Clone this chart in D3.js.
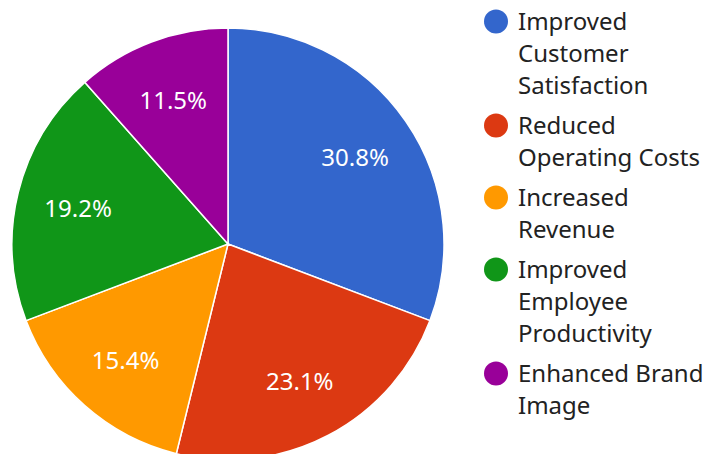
<!DOCTYPE html>
<html>
<head>
<meta charset="utf-8">
<script src="https://cdn.jsdelivr.net/npm/d3@7"></script>
<style>
  body { margin: 0; background: #fff; }
  svg { display: block; font-family: "Noto Sans", "Open Sans", sans-serif; }
</style>
</head>
<body>
<svg id="chart" width="709" height="454"></svg>
<script>
// chart data
const categories = [
    "Improved Customer Satisfaction",
    "Reduced Operating Costs",
    "Increased Revenue",
    "Improved Employee Productivity",
    "Enhanced Brand Image"
];
const values = [8, 6, 4, 5, 3];
const colors = ["#3366cc", "#dc3912", "#ff9900", "#109618", "#990099"];
// legend lines as wrapped in the picture
const legendLines = [
    ["Improved", "Customer", "Satisfaction"],
    ["Reduced", "Operating Costs"],
    ["Increased", "Revenue"],
    ["Improved", "Employee", "Productivity"],
    ["Enhanced Brand", "Image"]
];

const W = 709, H = 454;
const cx = 228, cy = 244, R = 216;

const svg = d3.select("#chart");
const total = d3.sum(values);

const pie = d3.pie().sort(null).value(d => d)(values);
const arc = d3.arc().innerRadius(0).outerRadius(R);
const labelArc = d3.arc().innerRadius(R * 0.715).outerRadius(R * 0.715);

const g = svg.append("g").attr("transform", `translate(${cx},${cy})`);

g.selectAll("path.slice")
    .data(pie)
    .enter()
    .append("path")
    .attr("class", "slice")
    .attr("d", arc)
    .attr("fill", (d, i) => colors[i])
    .attr("stroke", "#fff")
    .attr("stroke-width", 1.5);

g.selectAll("text.pct")
    .data(pie)
    .enter()
    .append("text")
    .attr("class", "pct")
    .attr("transform", d => `translate(${labelArc.centroid(d)})`)
    .attr("text-anchor", "middle")
    .attr("dominant-baseline", "central")
    .attr("fill", "#fff")
    .style("font-size", "24px")
    .text(d => (d.value / total * 100).toFixed(1) + "%");

// legend
const lineH = 32;
const itemGap = 8;
const legend = svg.append("g").attr("transform", "translate(496,0)");
let y = 30;
legendLines.forEach((lines, i) => {
    const item = legend.append("g");
    item.append("circle")
        .attr("cx", 0)
        .attr("cy", y - 8.5)
        .attr("r", 12)
        .attr("fill", colors[i]);
    lines.forEach((t, j) => {
        item.append("text")
            .attr("x", 22)
            .attr("y", y + j * lineH)
            .attr("fill", "#222")
            .style("font-size", "24px")
            .text(t);
    });
    y += lines.length * lineH + itemGap;
});
</script>
</body>
</html>
